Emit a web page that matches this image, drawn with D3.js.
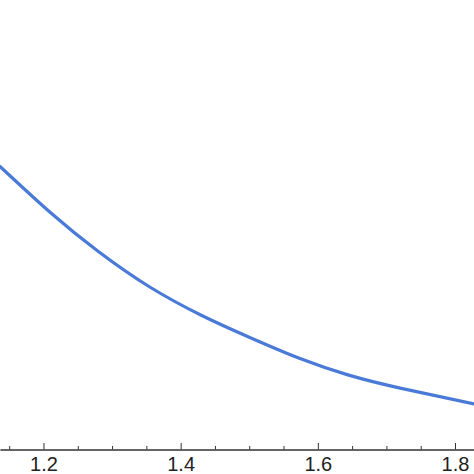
<!DOCTYPE html>
<html lang="en">
<head>
    <meta charset="UTF-8">
    <title>Curve</title>
    <script src="https://d3js.org/d3.v7.min.js"></script>
    <style>
        html, body { margin: 0; padding: 0; background: #fff; }
        .axis text { font-family: "Liberation Sans", Arial, sans-serif; font-size: 20px; fill: #222; }
        .axis path, .axis line { stroke: #333; stroke-width: 1; }
    </style>
</head>
<body>
    <div id="chart"></div>
    <script>
        // values
        var xValues = [1.1366, 1.21, 1.28, 1.355, 1.43, 1.50, 1.575, 1.645, 1.72, 1.8277];
        var yValues = [2.83, 2.37, 1.98, 1.625, 1.343, 1.123, 0.907, 0.744, 0.614, 0.455];
        var majorTicks = [1.2, 1.4, 1.6, 1.8];
        var minorTicks = [1.15, 1.25, 1.3, 1.35, 1.45, 1.5, 1.55, 1.65, 1.7, 1.75];

        var width = 474, height = 474;

        var svg = d3.select("#chart")
            .append("svg")
            .attr("width", width)
            .attr("height", height);

        var x = d3.scaleLinear()
            .domain([1.1366, 1.8277])
            .range([0, width]);

        var y = d3.scaleLinear()
            .domain([0, 4.5])
            .range([449.5, -0.5]);

        var points = xValues.map(function (d, i) { return { x: d, y: yValues[i] }; });

        var line = d3.line()
            .x(function (d) { return x(d.x); })
            .y(function (d) { return y(d.y); })
            .curve(d3.curveNatural);

        svg.append("path")
            .datum(points)
            .attr("d", line)
            .attr("fill", "none")
            .attr("stroke", "#4a7ad8")
            .attr("stroke-width", 3.2)
            .attr("stroke-linecap", "round");

        // minor ticks, no labels
        svg.append("g")
            .attr("class", "axis")
            .attr("transform", "translate(0,449.5)")
            .call(d3.axisBottom(x)
                .tickValues(minorTicks)
                .tickSizeInner(-3.5)
                .tickSizeOuter(0)
                .tickFormat(""));

        // major ticks with labels
        svg.append("g")
            .attr("class", "axis")
            .attr("transform", "translate(0,449.5)")
            .call(d3.axisBottom(x)
                .tickValues(majorTicks)
                .tickSizeInner(-6.5)
                .tickSizeOuter(0)
                .tickPadding(7)
                .tickFormat(d3.format(".1f")));
    </script>
</body>
</html>
